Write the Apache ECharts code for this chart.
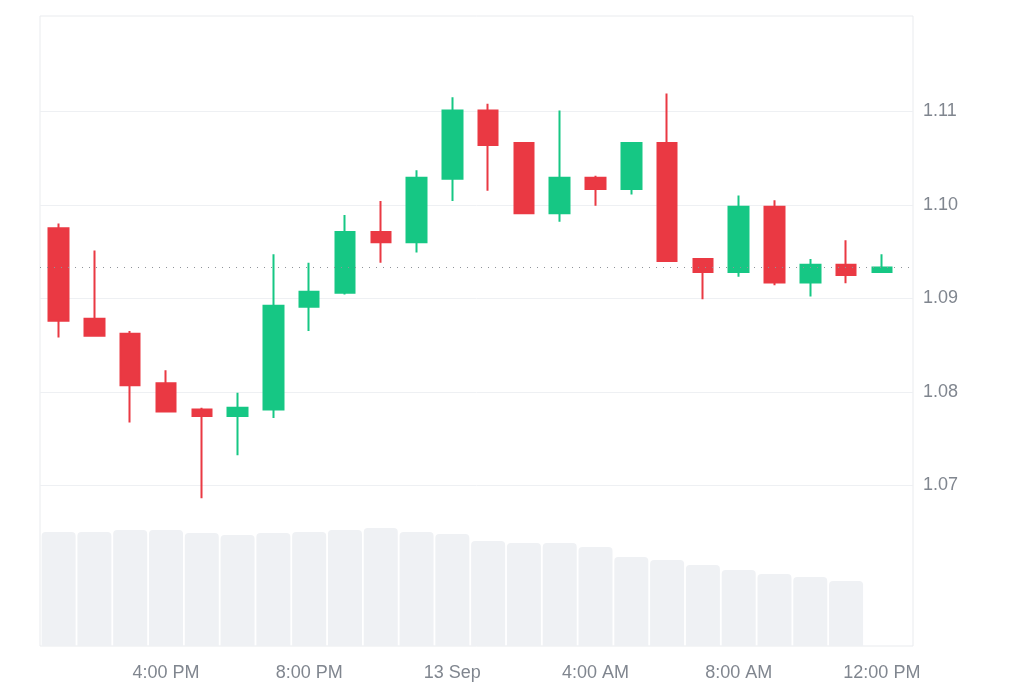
<!DOCTYPE html>
<html>
<head>
<meta charset="utf-8">
<script src="https://cdn.jsdelivr.net/npm/echarts@6/dist/echarts.min.js"></script>
<style>
  html, body { margin: 0; padding: 0; background: #ffffff; }
  #chart { width: 1024px; height: 683px; }
</style>
</head>
<body>
<div id="chart"></div>
<script>
// Hourly categories (12 Sep 1:00 PM -> 13 Sep 12:00 PM)
const hours = ['1:00 PM','2:00 PM','3:00 PM','4:00 PM','5:00 PM','6:00 PM','7:00 PM','8:00 PM',
  '9:00 PM','10:00 PM','11:00 PM','13 Sep','1:00 AM','2:00 AM','3:00 AM','4:00 AM','5:00 AM',
  '6:00 AM','7:00 AM','8:00 AM','9:00 AM','10:00 AM','11:00 AM','12:00 PM'];
const xTickIndex = [3, 7, 11, 15, 19, 23];
const yTicks = [1.07, 1.08, 1.09, 1.10, 1.11];

const opens  = [1.0975,1.0878,1.0862,1.0809,1.0781,1.0774,1.0781,1.0891,1.0906,1.0971,1.0960,1.1028,
                1.1101,1.1066,1.0991,1.1029,1.1017,1.1066,1.0942,1.0928,1.0998,1.0917,1.0936,1.0928];
const closes = [1.0876,1.0860,1.0807,1.0779,1.0774,1.0783,1.0892,1.0907,1.0971,1.0960,1.1029,1.1101,
                1.1064,1.0991,1.1029,1.1017,1.1066,1.0940,1.0928,1.0998,1.0917,1.0936,1.0925,1.0933];
const lows   = [1.0858,1.0860,1.0767,1.0779,1.0686,1.0732,1.0772,1.0865,1.0904,1.0938,1.0949,1.1004,
                1.1015,1.0991,1.0982,1.0999,1.1011,1.0940,1.0899,1.0923,1.0914,1.0902,1.0916,1.0928];
const highs  = [1.0980,1.0951,1.0865,1.0823,1.0783,1.0799,1.0947,1.0938,1.0989,1.1004,1.1037,1.1115,
                1.1108,1.1066,1.1101,1.1031,1.1066,1.1119,1.0942,1.1010,1.1005,1.0942,1.0962,1.0947];
const volumes = [114,114,116,116,113,111,113,114,116,118,114,112,105,103,103,99,89,86,81,76,72,69,65];

const candleData = opens.map((o, i) => [i, o, closes[i], lows[i], highs[i]]);
const volumeData = volumes.map((v, i) => [i, v]);
const lastClose = closes[closes.length - 1];

const textColor = '#80868f';
const font = '"Liberation Sans", Arial, sans-serif';

const chart = echarts.init(document.getElementById('chart'), null, { renderer: 'canvas' });
chart.setOption({
  animation: false,
  backgroundColor: '#ffffff',
  grid: {
    left: 40, right: 111, top: 16, bottom: 37,
    show: true, borderColor: '#e9ebee', borderWidth: 1, backgroundColor: 'transparent'
  },
  xAxis: {
    type: 'value',
    min: -0.52, max: 23.87,
    axisLine: { show: false },
    axisTick: { show: false, customValues: xTickIndex },
    splitLine: { show: false },
    axisLabel: {
      customValues: xTickIndex,
      formatter: v => hours[Math.round(v)],
      color: textColor, fontSize: 18, fontFamily: font, margin: 18
    }
  },
  yAxis: [{
    type: 'value',
    position: 'right',
    min: 1.0528, max: 1.1202,
    scale: true,
    axisLine: { show: false },
    axisTick: { show: false, customValues: yTicks },
    splitLine: { show: true, lineStyle: { color: '#eef0f3', width: 1 } },
    axisLabel: {
      customValues: yTicks,
      formatter: v => v.toFixed(2),
      color: textColor, fontSize: 18, fontFamily: font, margin: 10
    }
  }, {
    type: 'value',
    min: 0, max: 630,
    show: false,
    splitLine: { show: false }
  }],
  series: [{
    type: 'bar',
    yAxisIndex: 1,
    data: volumeData,
    barWidth: 34,
    itemStyle: { color: '#eff1f4', borderRadius: [4, 4, 0, 0] },
    z: 1,
    silent: true
  }, {
    type: 'candlestick',
    yAxisIndex: 0,
    data: candleData,
    encode: { x: 0, y: [1, 2, 3, 4] },
    barWidth: 20,
    itemStyle: {
      color: '#16c784', color0: '#ea3943',
      borderColor: '#16c784', borderColor0: '#ea3943',
      borderWidth: 2
    },
    z: 3,
    markLine: {
      silent: true,
      symbol: 'none',
      precision: 4,
      label: { show: false },
      lineStyle: { color: '#8f9399', width: 1, type: [1, 6] },
      data: [{ yAxis: lastClose }]
    }
  }]
});
</script>
</body>
</html>
